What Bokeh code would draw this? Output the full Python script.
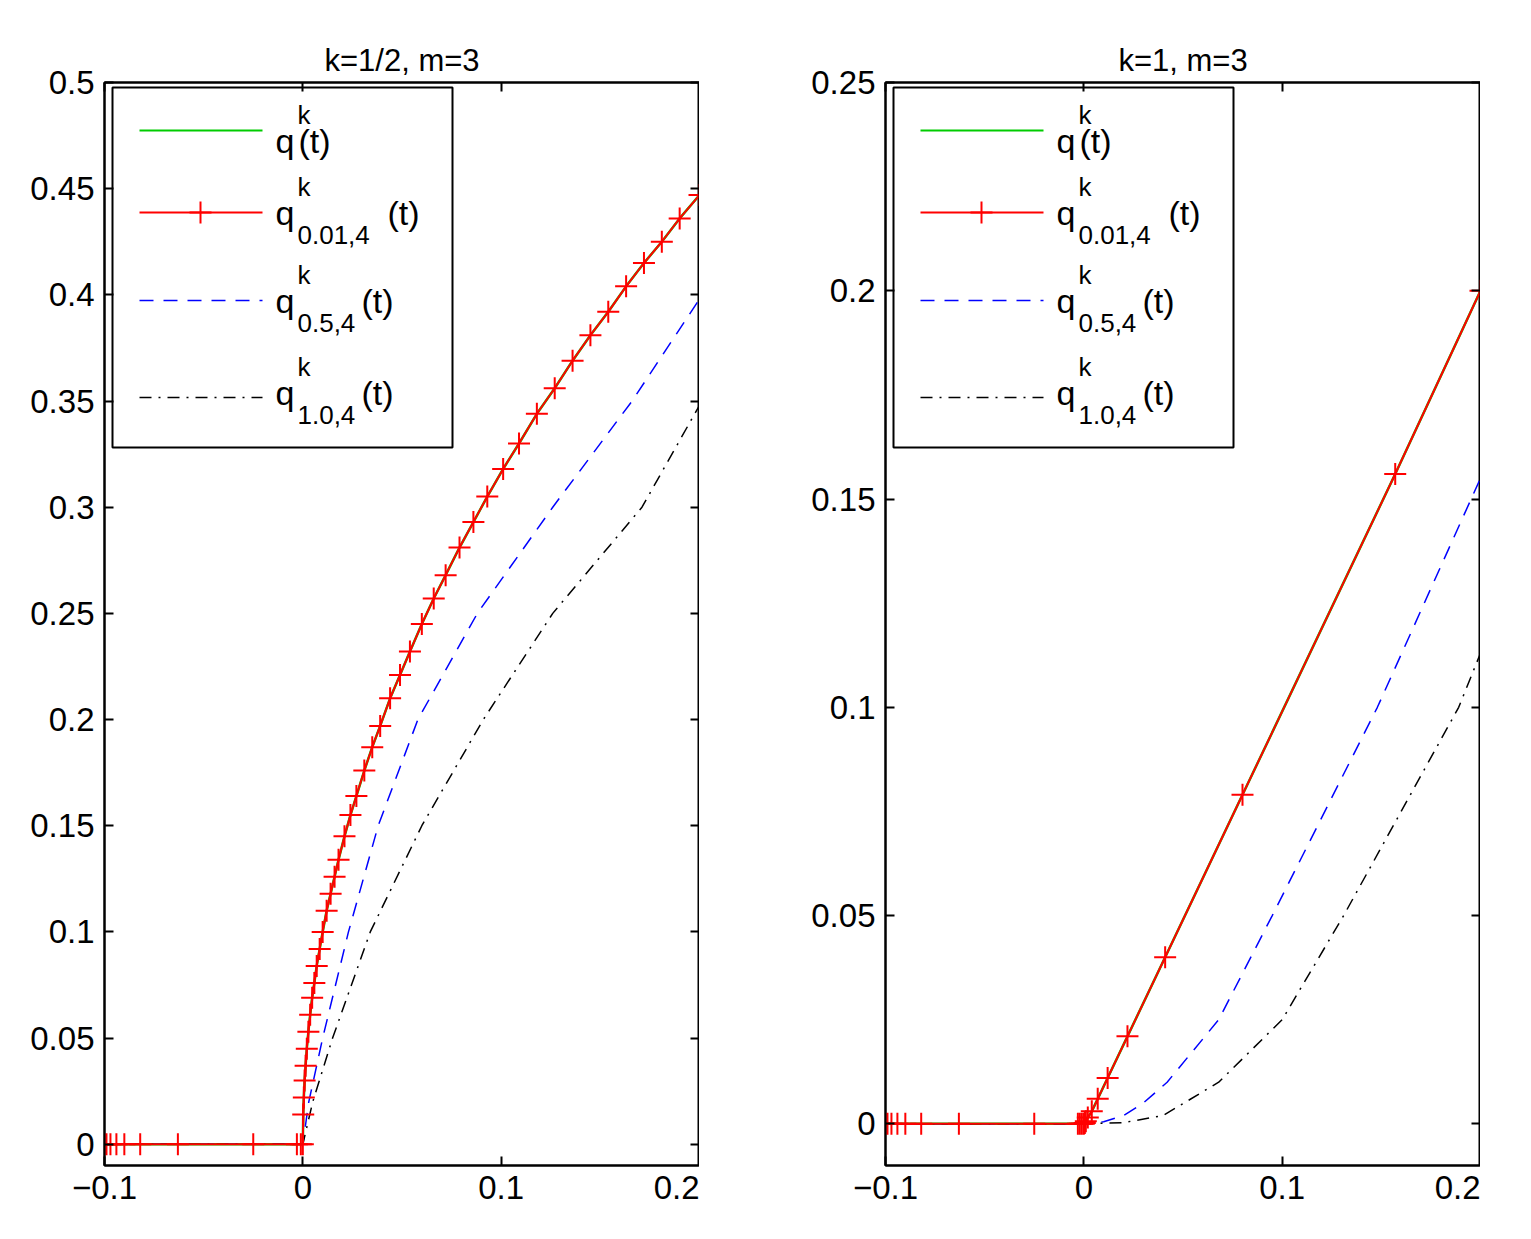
from bokeh.plotting import figure
from bokeh.layouts import row
from bokeh.models import LinearAxis, FixedTicker, Label, Range1d
from bokeh.embed import file_html
from bokeh.resources import INLINE

FONT = "Liberation Sans"

# ---- left panel data (k=1/2) ----
L_red_t = [-0.1, -0.099, -0.097, -0.094, -0.09, -0.082, -0.063, -0.025, -0.003, -0.001,
           0.0, 0.0002, 0.0005, 0.0009, 0.0014, 0.002, 0.0028, 0.0037, 0.0047, 0.0058, 0.007, 0.0085,
           0.010, 0.012, 0.014, 0.016, 0.018, 0.021, 0.024, 0.027, 0.031, 0.035, 0.039, 0.044,
           0.049, 0.054, 0.06, 0.066, 0.072, 0.079, 0.086, 0.093, 0.101, 0.109, 0.118, 0.127,
           0.136, 0.145, 0.154, 0.163, 0.172, 0.181, 0.19, 0.2]
L_red_q = [0, 0, 0, 0, 0, 0, 0, 0, 0, 0,
           0.0, 0.014, 0.022, 0.030, 0.037, 0.045, 0.053, 0.061, 0.069, 0.076, 0.084, 0.092,
           0.100, 0.110, 0.118, 0.126, 0.134, 0.145, 0.155, 0.164, 0.176, 0.187, 0.197, 0.210,
           0.221, 0.232, 0.245, 0.257, 0.268, 0.281, 0.293, 0.305, 0.318, 0.330, 0.344, 0.356,
           0.369, 0.381, 0.392, 0.404, 0.415, 0.425, 0.436, 0.447]
L_blue_t = [-0.1, 0.0, 0.003, 0.01, 0.023, 0.038, 0.058, 0.088, 0.126, 0.166, 0.2]
L_blue_q = [0, 0, 0.02, 0.05, 0.1, 0.15, 0.2, 0.25, 0.3, 0.35, 0.398]
L_black_t = [-0.1, 0.0, 0.005, 0.015, 0.034, 0.06, 0.091, 0.126, 0.171, 0.2]
L_black_q = [0, 0, 0.02, 0.05, 0.1, 0.15, 0.2, 0.25, 0.3, 0.348]
L_yticks = [0, 0.05, 0.1, 0.15, 0.2, 0.25, 0.3, 0.35, 0.4, 0.45, 0.5]

# ---- right panel data (k=1) ----
R_red_t = [-0.1, -0.099, -0.097, -0.094, -0.09, -0.082, -0.063, -0.025, -0.003, -0.002, -0.001,
           0.0, 0.0005, 0.001, 0.002, 0.004, 0.007, 0.012, 0.022, 0.041, 0.08, 0.157, 0.2]
R_red_q = [0, 0, 0, 0, 0, 0, 0, 0, 0, 0, 0,
           0.0, 0.0002, 0.0006, 0.0015, 0.003, 0.006, 0.011, 0.021, 0.040, 0.079, 0.156, 0.2]
R_blue_t = [-0.1, 0.0, 0.01, 0.02, 0.03, 0.042, 0.068, 0.095, 0.148, 0.2]
R_blue_q = [0, 0, 0.0005, 0.002, 0.005, 0.01, 0.025, 0.05, 0.1, 0.155]
R_black_t = [-0.1, 0.0, 0.02, 0.04, 0.068, 0.1, 0.131, 0.16, 0.189, 0.2]
R_black_q = [0, 0, 0.0003, 0.002, 0.01, 0.025, 0.05, 0.075, 0.1, 0.113]
R_yticks = [0, 0.05, 0.1, 0.15, 0.2, 0.25]

xticks = [-0.1, 0, 0.1, 0.2]
subs = ["0.01,4", "0.5,4", "1.0,4"]

FW, FH = 595, 1083


def fmt(v):
    return ("%g" % v).replace("-", "\u2212")


def make(title, yr, yticks, red_t, red_q, blue_t, blue_q, blk_t, blk_q, border_left, frame_left):
    x0, x1 = -0.1, 0.2
    y0, y1 = yr
    p = figure(frame_width=FW, frame_height=FH, output_backend="svg", toolbar_location=None,
               x_range=Range1d(x0, x1), y_range=Range1d(y0, y1),
               x_axis_location=None, y_axis_location=None,
               min_border_left=border_left, min_border_right=0, min_border_top=82,
               min_border_bottom=60, title=title)
    p.title.text_font = FONT
    p.title.text_font_size = "31px"
    p.title.text_font_style = "normal"
    p.title.text_color = "black"
    p.title.align = "center"
    p.xgrid.visible = False
    p.ygrid.visible = False
    p.outline_line_color = "black"
    p.outline_line_width = 2

    xb = LinearAxis(ticker=FixedTicker(ticks=xticks),
                    major_label_overrides={t: fmt(t) for t in xticks})
    yl = LinearAxis(ticker=FixedTicker(ticks=yticks),
                    major_label_overrides={t: fmt(t) for t in yticks})
    xt = LinearAxis(ticker=FixedTicker(ticks=xticks), major_label_text_font_size="0px",
                    major_label_text_color=None)
    yr_ax = LinearAxis(ticker=FixedTicker(ticks=yticks), major_label_text_font_size="0px",
                       major_label_text_color=None)
    for ax in (xb, yl, xt, yr_ax):
        ax.major_tick_in = 9
        ax.major_tick_out = 0
        ax.minor_tick_line_color = None
        ax.axis_line_color = "black"
        ax.axis_line_width = 2
        ax.major_tick_line_width = 2
        ax.major_label_text_font = FONT
        ax.major_label_standoff = 10
    for ax in (xb, yl):
        ax.major_label_text_font_size = "33px"
        ax.major_label_text_color = "black"
    p.add_layout(xb, "below")
    p.add_layout(yl, "left")
    p.add_layout(xt, "above")
    p.add_layout(yr_ax, "right")

    p.line(red_t, red_q, line_color="#00cc00", line_width=2.5)
    p.line(blue_t, blue_q, line_color="blue", line_width=1.5, line_dash="14 10")
    p.line(blk_t, blk_q, line_color="black", line_width=1.5, line_dash="12 7 2 7")
    p.line(red_t, red_q, line_color="red", line_width=2)
    p.scatter(red_t, red_q, marker="cross", size=22, line_color="red", line_width=2)

    def dx(px):
        return x0 + (px - frame_left) / FW * (x1 - x0)

    def dy(py):
        return y1 - (py - 82) / FH * (y1 - y0)

    off = frame_left - 112
    p.quad(left=[dx(120 + off)], right=[dx(460 + off)], top=[dy(87)], bottom=[dy(447)],
           fill_color="white", fill_alpha=1, line_color="black", line_width=2)
    specs = [("#00cc00", None, 130, 140, None), ("red", "+", 212, 212, subs[0]),
             ("blue", "dash", 300, 300, subs[1]), ("black", "dashdot", 397, 392, subs[2])]
    for color, style, ly, ty, sub in specs:
        kw = {}
        if style == "dash":
            kw["line_dash"] = "14 10"
        if style == "dashdot":
            kw["line_dash"] = "12 7 2 7"
        p.line([dx(147 + off), dx(270 + off)], [dy(ly), dy(ly)], line_color=color,
               line_width=2 if color in ("red", "#00cc00") else 1.5, **kw)
        if style == "+":
            p.scatter([dx(208 + off)], [dy(ly)], marker="cross", size=22, line_color="red", line_width=2)

        def lab(px, py, txt, size):
            p.add_layout(Label(x=dx(px + off), y=dy(py), text=txt, text_font=FONT,
                               text_font_size=size, text_baseline="middle", text_color="black"))
        lab(283, ty, "q", "34px")
        lab(305, ty - 26, "k", "26px")
        if sub is None:
            lab(306, ty, "(t)", "34px")
        else:
            lab(305, ty + 22, sub, "26px")
            w = 88 if sub == "0.01,4" else 62
            lab(307 + w, ty, "(t)", "34px")
    return p


left = make("k=1/2, m=3", (-0.01, 0.5), L_yticks, L_red_t, L_red_q, L_blue_t, L_blue_q,
            L_black_t, L_black_q, 104, 112)
right = make("k=1, m=3", (-0.01, 0.25), R_yticks, R_red_t, R_red_q, R_blue_t, R_blue_q,
             R_black_t, R_black_q, 186, 893)

lay = row(left, right)
open("out.html", "w").write(file_html(lay, INLINE))
